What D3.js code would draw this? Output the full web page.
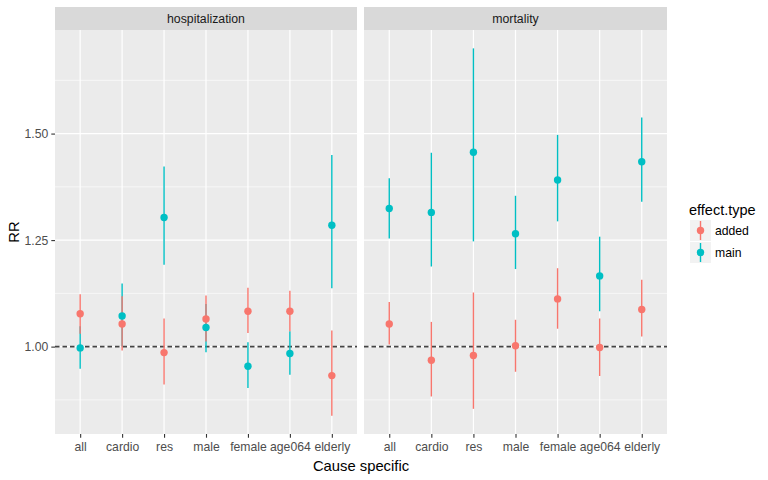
<!DOCTYPE html>
<html><head><meta charset="utf-8">
<script src="https://cdn.jsdelivr.net/npm/d3@7"></script>
<style>body{margin:0;background:#fff}svg{display:block;font-family:"Liberation Sans",Arial,sans-serif}</style>
</head><body><svg id="c" width="768" height="480"></svg>
<script>
const categories = ["all","cardio","res","male","female","age064","elderly"];
const facets = ["hospitalization","mortality"];
const effectTypes = ["added","main"];
const colors = ["#F8766D","#00BFC4"];
const yTicks = [1.00, 1.25, 1.50];
const yMinor = [0.875, 1.125, 1.375, 1.625];
// hospitalization
const hospAddedRR = [1.077,1.053,0.986,1.065,1.083,1.083,0.932];
const hospAddedLo = [1.030,0.991,0.911,1.012,1.032,1.036,0.838];
const hospAddedHi = [1.123,1.118,1.066,1.120,1.138,1.131,1.038];
const hospMainRR  = [0.997,1.072,1.303,1.045,0.954,0.984,1.285];
const hospMainLo  = [0.948,1.000,1.192,0.987,0.903,0.934,1.137];
const hospMainHi  = [1.048,1.148,1.423,1.100,1.010,1.036,1.450];
// mortality
const mortAddedRR = [1.053,0.968,0.979,1.002,1.112,0.998,1.087];
const mortAddedLo = [1.005,0.883,0.854,0.941,1.042,0.931,1.024];
const mortAddedHi = [1.105,1.058,1.127,1.063,1.184,1.066,1.157];
const mortMainRR  = [1.324,1.315,1.456,1.265,1.391,1.166,1.434];
const mortMainLo  = [1.254,1.188,1.247,1.182,1.294,1.083,1.340];
const mortMainHi  = [1.395,1.455,1.700,1.354,1.497,1.258,1.538];

const series = [
  {facet:0,type:0,rr:hospAddedRR,lo:hospAddedLo,hi:hospAddedHi},
  {facet:0,type:1,rr:hospMainRR,lo:hospMainLo,hi:hospMainHi},
  {facet:1,type:0,rr:mortAddedRR,lo:mortAddedLo,hi:mortAddedHi},
  {facet:1,type:1,rr:mortMainRR,lo:mortMainLo,hi:mortMainHi}
];
const rows = [];
series.forEach(s => categories.forEach((c,i) => rows.push({facet:s.facet,type:s.type,cat:c,rr:s.rr[i],lo:s.lo[i],hi:s.hi[i]})));

const svg = d3.select("#c");
const panelTop = 30, panelBottom = 434;
const panels = [[55,357],[364,667]];
const allVals = rows.flatMap(r => [r.lo, r.hi, r.rr]);
const [mn, mx] = d3.extent(allVals);
const pad = (mx - mn) * 0.05;
const y = d3.scaleLinear().domain([mn - pad, mx + pad]).range([panelBottom, panelTop]);
const FONT = "Liberation Sans, Arial, sans-serif";

panels.forEach((p, fi) => {
  const x = d3.scalePoint().domain(categories).range(p).padding(0.6);
  const g = svg.append("g");
  g.append("rect").attr("x",p[0]).attr("y",7).attr("width",p[1]-p[0]).attr("height",panelTop-7).attr("fill","#d9d9d9");
  g.append("text").attr("x",(p[0]+p[1])/2).attr("y",19).attr("dy","0.35em").attr("text-anchor","middle")
    .attr("font-size","12.3px").attr("fill","#1a1a1a").text(facets[fi]);
  g.append("rect").attr("x",p[0]).attr("y",panelTop).attr("width",p[1]-p[0]).attr("height",panelBottom-panelTop).attr("fill","#ebebeb");
  g.selectAll(".ymin").data(yMinor).enter().append("line")
    .attr("x1",p[0]).attr("x2",p[1]).attr("y1",d=>y(d)).attr("y2",d=>y(d)).attr("stroke","#fff").attr("stroke-width",0.6);
  g.selectAll(".ymaj").data(yTicks).enter().append("line")
    .attr("x1",p[0]).attr("x2",p[1]).attr("y1",d=>y(d)).attr("y2",d=>y(d)).attr("stroke","#fff").attr("stroke-width",1.2);
  g.selectAll(".xmaj").data(categories).enter().append("line")
    .attr("x1",d=>x(d)).attr("x2",d=>x(d)).attr("y1",panelTop).attr("y2",panelBottom).attr("stroke","#fff").attr("stroke-width",1.2);
  const xa = g.append("g").attr("transform",`translate(0,${panelBottom})`)
    .call(d3.axisBottom(x).tickSize(3.7).tickPadding(4.5));
  xa.select(".domain").remove();
  xa.selectAll(".tick line").attr("stroke","#333").attr("stroke-width",1.1);
  xa.selectAll("text").attr("font-size","12.2px").attr("fill","#4d4d4d").attr("font-family",FONT);
  if (fi === 0) {
    const ya = g.append("g").attr("transform",`translate(${p[0]},0)`)
      .call(d3.axisLeft(y).tickValues(yTicks).tickFormat(d3.format(".2f")).tickSize(3.7).tickPadding(3));
    ya.select(".domain").remove();
    ya.selectAll(".tick line").attr("stroke","#333").attr("stroke-width",1.1);
    ya.selectAll("text").attr("font-size","12.2px").attr("fill","#4d4d4d").attr("font-family",FONT);
  }
  g.append("line").attr("x1",p[0]).attr("x2",p[1]).attr("y1",y(1)).attr("y2",y(1))
    .attr("stroke","#444").attr("stroke-width",1.6).attr("stroke-dasharray","4.5,3");
  const data = rows.filter(r => r.facet === fi);
  const ordered = data.filter(r=>r.type===1).concat(data.filter(r=>r.type===0));
  g.selectAll(".rng").data(ordered).enter().append("line")
    .attr("x1",d=>x(d.cat)).attr("x2",d=>x(d.cat)).attr("y1",d=>y(d.lo)).attr("y2",d=>y(d.hi))
    .attr("stroke",d=>colors[d.type]).attr("stroke-width",1.4);
  g.selectAll(".pt").data(ordered).enter().append("circle")
    .attr("cx",d=>x(d.cat)).attr("cy",d=>y(d.rr)).attr("r",3.7).attr("fill",d=>colors[d.type]);
});

svg.append("text").attr("x",(panels[0][0]+panels[1][1])/2).attr("y",466).attr("dy","0.35em").attr("text-anchor","middle")
  .attr("font-size","14.8px").attr("fill","#000").text("Cause specific");
svg.append("text").attr("transform",`translate(14,${(panelTop+panelBottom)/2}) rotate(-90)`).attr("dy","0.35em").attr("text-anchor","middle")
  .attr("font-size","14.8px").attr("fill","#000").text("RR");

const lg = svg.append("g");
lg.append("text").attr("x",689).attr("y",210).attr("dy","0.35em").attr("font-size","14.5px").attr("fill","#000").text("effect.type");
effectTypes.forEach((t,i) => {
  const ky = 220 + i*22;
  lg.append("rect").attr("x",690).attr("y",ky).attr("width",21).attr("height",21).attr("fill","#f2f2f2");
  lg.append("line").attr("x1",700.5).attr("x2",700.5).attr("y1",ky+1).attr("y2",ky+20).attr("stroke",colors[i]).attr("stroke-width",1.4);
  lg.append("circle").attr("cx",700.5).attr("cy",ky+10.5).attr("r",3.7).attr("fill",colors[i]);
  lg.append("text").attr("x",715).attr("y",ky+10.5).attr("dy","0.35em").attr("font-size","12.2px").attr("fill","#000").text(t);
});
</script></body></html>
